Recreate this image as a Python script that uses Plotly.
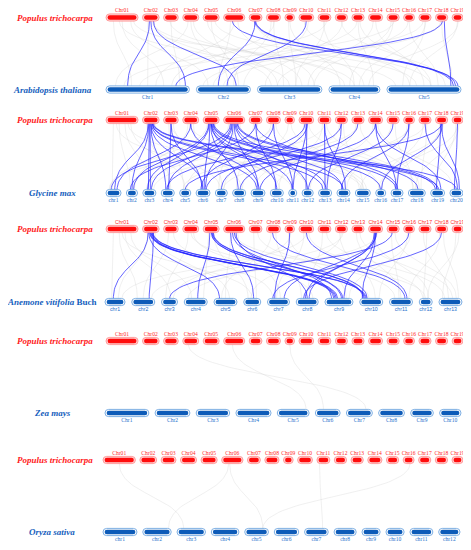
import numpy as np
import plotly.graph_objects as go

# chromosome names / lengths (Mb)
pop_names = ['Chr01', 'Chr02', 'Chr03', 'Chr04', 'Chr05', 'Chr06', 'Chr07', 'Chr08', 'Chr09', 'Chr10',
             'Chr11', 'Chr12', 'Chr13', 'Chr14', 'Chr15', 'Chr16', 'Chr17', 'Chr18', 'Chr19']
pop_len = [50, 26, 23, 25, 25, 33, 20, 22, 15, 23, 20, 19, 19, 22, 19, 17, 19, 19, 17]

ath_names = ['Chr1', 'Chr2', 'Chr3', 'Chr4', 'Chr5']
ath_len = [30.4, 19.7, 23.5, 18.6, 27.0]

gly_names = ['chr%d' % i for i in range(1, 21)]
gly_len = [54, 40, 47, 47, 40, 50, 43, 47, 50, 47, 29, 40, 47, 47, 54, 36, 43, 61, 50, 47]

ane_names = ['chr%d' % i for i in range(1, 14)]
ane_len = [20, 23, 16, 23, 23, 17, 22, 22, 28, 23, 23, 13, 23]

zea_names = ['Chr%d' % i for i in range(1, 11)]
zea_len = [307, 244, 235, 246, 223, 174, 182, 181, 159, 150]

osa_names = ['chr%d' % i for i in range(1, 13)]
osa_len = [43, 36, 36, 35, 30, 31, 30, 28, 23, 23, 29, 27]

species = ['Arabidopsis thaliana', 'Glycine max', 'Anemone vitifolia Buch', 'Zea mays', 'Oryza sativa']

# links: (poplar chr, fraction along it, other chr, fraction along it)
gray1 = [(1,.2,1,.3),(1,.5,1,.7),(1,.8,2,.2),(1,.4,3,.5),(1,.9,5,.1),(2,.3,1,.5),(2,.7,3,.2),(3,.5,1,.9),
         (3,.4,4,.3),(4,.5,2,.6),(4,.3,1,.1),(5,.5,2,.8),(5,.2,3,.7),(5,.8,5,.4),(6,.3,2,.4),(6,.7,3,.9),
         (6,.5,1,.6),(7,.5,4,.7),(7,.3,5,.6),(8,.5,3,.4),(8,.6,1,.8),(9,.5,4,.2),(10,.3,5,.3),(10,.7,2,.9),
         (11,.5,3,.6),(11,.4,4,.5),(12,.5,5,.8),(12,.6,3,.1),(13,.5,4,.9),(13,.4,2,.3),(14,.5,5,.5),
         (14,.3,3,.8),(15,.5,4,.4),(15,.6,1,.4),(16,.5,5,.7),(16,.4,3,.3),(17,.5,5,.2),(17,.6,4,.6),
         (18,.5,5,.9),(18,.4,2,.5),(19,.5,5,.3),(19,.6,4,.8),(2,.6,4,.5),(4,.7,3,.3),(8,.3,2,.7),
         (9,.3,3,.6),(11,.7,1,.2),(13,.7,5,.6),(15,.3,3,.9),(17,.3,2,.1)]
blue1 = [(2,.4,1,.25),(2,.5,1,.97),(2,.7,2,.75),(18,.6,1,.85),(18,.8,5,.88),(6,.4,5,.98),
         (7,.4,5,.92),(7,.5,5,.95),(7,.45,2,.4),(10,.5,2,.57)]

gray2 = [(1,.2,1,.4),(1,.4,2,.3),(1,.6,3,.8),(1,.8,5,.5),(1,.3,7,.4),(1,.7,11,.3),(2,.2,4,.8),(2,.8,15,.4),
         (3,.3,5,.3),(3,.7,8,.7),(4,.3,2,.8),(4,.7,7,.6),(4,.4,15,.6),(5,.2,1,.2),(5,.8,12,.4),(6,.2,2,.6),
         (6,.8,15,.8),(6,.5,7,.2),(7,.3,5,.7),(7,.7,8,.2),(8,.3,3,.2),(8,.7,15,.2),(9,.3,7,.8),(9,.7,16,.3),
         (10,.3,8,.8),(10,.7,18,.3),(11,.3,10,.7),(11,.7,18,.5),(12,.3,9,.2),(12,.7,15,.5),(13,.3,11,.2),
         (13,.7,18,.7),(14,.3,12,.8),(14,.7,20,.2),(15,.3,13,.2),(15,.7,18,.2),(16,.3,14,.8),(16,.7,10,.2),
         (17,.3,16,.7),(17,.7,18,.8),(18,.3,17,.2),(18,.7,15,.3),(19,.3,19,.2),(19,.7,18,.4),(19,.5,16,.2),
         (3,.5,10,.8),(8,.5,1,.1),(13,.5,5,.2),(17,.5,7,.7),(11,.5,3,.9)]
blue2 = [(2,.3,1,.6),(2,.35,2,.5),(2,.4,3,.4),(2,.45,3,.6),(2,.5,4,.3),(2,.5,6,.5),(2,.55,9,.4),
         (2,.6,13,.3),(2,.6,14,.5),(2,.65,19,.6),(2,.7,20,.5),(3,.5,6,.4),(3,.5,4,.6),(4,.5,1,.8),
         (4,.5,9,.6),(5,.3,2,.7),(5,.35,3,.3),(5,.4,6,.6),(5,.45,8,.4),(5,.5,10,.5),(5,.5,11,.4),
         (5,.55,13,.6),(5,.6,16,.5),(5,.65,17,.4),(5,.7,19,.3),(6,.3,1,.3),(6,.35,3,.7),(6,.4,4,.5),
         (6,.45,6,.7),(6,.5,9,.5),(6,.55,12,.5),(6,.6,14,.4),(6,.65,18,.6),(6,.7,19,.5),(7,.5,2,.3),
         (7,.5,10,.4),(7,.5,17,.6),(8,.5,11,.5),(8,.5,6,.3),(10,.4,4,.4),(10,.5,11,.6),(10,.55,12,.3),
         (10,.6,7,.5),(11,.5,13,.5),(11,.5,14,.7),(12,.5,13,.7),(12,.5,6,.8),(13,.5,8,.6),(14,.5,17,.4),
         (14,.5,9,.7),(14,.5,19,.8),(15,.5,12,.6),(16,.5,17,.5),(16,.5,14,.3),(17,.5,20,.6),(18,.4,19,.4),
         (18,.5,20,.8),(18,.6,16,.6),(18,.5,5,.5),(19,.5,20,.3)]

gray3 = [(1,.2,1,.3),(1,.4,2,.2),(1,.6,3,.6),(1,.8,4,.3),(1,.5,6,.5),(2,.3,1,.7),(2,.8,5,.7),(3,.3,2,.5),
         (3,.7,7,.2),(4,.3,3,.2),(4,.7,8,.8),(5,.3,4,.9),(5,.7,6,.2),(6,.3,5,.5),(6,.7,7,.6),(6,.5,12,.5),
         (7,.3,6,.8),(7,.7,11,.2),(8,.3,5,.3),(8,.7,8,.2),(9,.3,9,.8),(9,.7,3,.8),(10,.3,7,.4),(10,.7,12,.2),
         (11,.3,8,.5),(11,.7,13,.2),(12,.3,10,.7),(12,.7,2,.9),(13,.3,11,.5),(13,.7,13,.6),(14,.3,12,.8),
         (14,.7,4,.1),(15,.3,11,.4),(15,.7,13,.8),(16,.3,10,.9),(16,.7,9,.9),(17,.3,13,.4),(17,.7,12,.3),
         (18,.3,11,.9),(18,.7,13,.9),(19,.3,13,.1),(19,.7,12,.7),(4,.5,10,.4),(10,.5,1,.9),(12,.5,6,.4)]
blue3 = [(2,.4,9,.3),(2,.45,9,.35),(2,.5,9,.4),(2,.55,9,.45),(2,.6,10,.2),(2,.65,10,.25),(2,.3,1,.4),
         (2,.35,5,.2),(2,.7,2,.8),(5,.5,9,.6),(5,.55,9,.65),(5,.6,10,.1),(5,.65,10,.15),(5,.4,4,.6),
         (6,.3,6,.6),(6,.4,9,.2),(6,.5,10,.3),(6,.6,8,.5),(9,.5,7,.3),(8,.4,11,.7),(10,.5,11,.8),
         (14,.4,8,.6),(14,.45,9,.7),(14,.5,10,.05),(14,.55,8,.4),(14,.6,7,.8),(18,.5,8,.3),(16,.5,7,.2),
         (15,.4,3,.5)]

gray4 = [(6,.4,5,.95),(4,.3,7,.8),(9,.5,6,.3)]
blue4 = []

gray5 = [(1,.5,3,.2),(6,.3,2,.95),(6,.35,5,.8),(16,.7,5,.8),(11,.1,7,.8)]
blue5 = []

# layout (screen pixels): row extents, gaps, row heights
rows = [
    dict(names=ath_names, lens=ath_len, x=(106, 461), gap=7.0, yt=17.5, yb=89.5, gray=gray1, blue=blue1),
    dict(names=gly_names, lens=gly_len, x=(106, 463), gap=5.3, yt=120, yb=193, gray=gray2, blue=blue2),
    dict(names=ane_names, lens=ane_len, x=(105, 462), gap=6.7, yt=229, yb=302, gray=gray3, blue=blue3),
    dict(names=zea_names, lens=zea_len, x=(105, 461), gap=6.2, yt=341, yb=413, gray=gray4, blue=blue4),
    dict(names=osa_names, lens=osa_len, x=(103, 460), gap=5.8, yt=460, yb=532, gray=gray5, blue=blue5),
]
pop_x = [(106, 463), (106, 463), (106, 463), (106, 463), (103, 463)]
POP_GAP = 4.4
PAD = 1.6
BODY = 8  # default page margin in front of the plot div

RED, RED_LIGHT, RED_EDGE = '#ff0d0d', '#ffd3d3', '#ff8c8c'
BLUE, BLUE_LIGHT, BLUE_EDGE = '#0d5bb8', '#ffffff', '#6fa6e0'
SERIF = 'Times New Roman, Liberation Serif, serif'


def place(lengths, x0, x1, gap):
    scale = (x1 - x0 - gap * (len(lengths) - 1)) / sum(lengths)
    out, cur = [], x0
    for L in lengths:
        out.append((cur, cur + L * scale))
        cur += L * scale + gap
    return out


def rpath(a, b, y, h):
    r = h
    return ('M %f,%f H %f Q %f,%f %f,%f Q %f,%f %f,%f H %f Q %f,%f %f,%f Q %f,%f %f,%f Z'
            % (a + r, y - h, b - r, b, y - h, b, y, b, y + h, b - r, y + h, a + r,
               a, y + h, a, y, a, y - h, a + r, y - h))


def pos(seg, f):
    a, b = seg
    return a + PAD + f * (b - a - 2 * PAD)


def curves(links, top, bot, yt, yb):
    xs, ys = [], []
    t = np.linspace(0, 1, 40)
    y1, y2 = yt + 3, yb - 3
    ym = (y1 + y2) / 2
    for tc, tf, bc, bf in links:
        x1 = pos(top[tc - 1], tf)
        x2 = pos(bot[bc - 1], bf)
        bx = (1 - t) ** 3 * x1 + 3 * (1 - t) ** 2 * t * x1 + 3 * (1 - t) * t ** 2 * x2 + t ** 3 * x2
        by = (1 - t) ** 3 * y1 + 3 * (1 - t) ** 2 * t * ym + 3 * (1 - t) * t ** 2 * ym + t ** 3 * y2
        xs += list(bx) + [None]
        ys += list(by) + [None]
    return xs, ys


fig = go.Figure()
shapes = []
annotations = []

for i, row in enumerate(rows):
    top = place(pop_len, pop_x[i][0], pop_x[i][1], POP_GAP)
    bot = place(row['lens'], row['x'][0], row['x'][1], row['gap'])
    yt, yb = row['yt'], row['yb']

    gx, gy = curves(row['gray'], top, bot, yt, yb)
    fig.add_trace(go.Scatter(x=gx, y=gy, mode='lines', hoverinfo='skip',
                             line=dict(color='rgba(200,200,200,0.45)', width=0.6)))
    if row['blue']:
        bx, by = curves(row['blue'], top, bot, yt, yb)
        fig.add_trace(go.Scatter(x=bx, y=by, mode='lines', hoverinfo='skip',
                                 line=dict(color='rgba(35,35,255,0.7)', width=1.0)))

    for (a, b) in top:
        shapes.append(dict(type='path', path=rpath(a, b, yt, 3.6), fillcolor=RED_LIGHT,
                           line=dict(color=RED_EDGE, width=0.8), layer='above'))
        shapes.append(dict(type='path', path=rpath(a + PAD, b - PAD, yt, 2.2), fillcolor=RED,
                           line=dict(width=0), layer='above'))
    for (a, b) in bot:
        shapes.append(dict(type='path', path=rpath(a, b, yb, 3.6), fillcolor=BLUE_LIGHT,
                           line=dict(color=BLUE_EDGE, width=0.9), layer='above'))
        shapes.append(dict(type='path', path=rpath(a + PAD, b - PAD, yb, 2.3), fillcolor=BLUE,
                           line=dict(width=0), layer='above'))

    lab_font = 'Arial, Liberation Sans, sans-serif' if i == 2 else SERIF
    lab_size = 5.2 if i == 2 else 5.6
    fig.add_trace(go.Scatter(x=[(a + b) / 2 for a, b in top], y=[yt - 6.5] * len(top),
                             mode='text', text=pop_names, hoverinfo='skip', cliponaxis=False,
                             textfont=dict(family=lab_font, size=lab_size, color='#ff2a2a')))
    fig.add_trace(go.Scatter(x=[(a + b) / 2 for a, b in bot], y=[yb + 8] * len(bot),
                             mode='text', text=row['names'], hoverinfo='skip', cliponaxis=False,
                             textfont=dict(family=lab_font, size=lab_size, color='#2a72cc')))

    annotations.append(dict(x=54.5, y=yt, xref='x', yref='y', showarrow=False,
                            text='<b><i>Populus trichocarpa</i></b>',
                            font=dict(family=SERIF, size=9, color='#ff1a1a')))
    name = species[i]
    if name.endswith(' Buch'):
        txt = '<b><i>%s</i> Buch</b>' % name[:-5]
    else:
        txt = '<b><i>%s</i></b>' % name
    annotations.append(dict(x=52, y=yb, xref='x', yref='y', showarrow=False, text=txt,
                            font=dict(family=SERIF, size=9, color='#1560bd')))

fig.update_layout(
    width=471 - BODY, height=550 - BODY,
    margin=dict(l=0, r=0, t=0, b=0),
    paper_bgcolor='white', plot_bgcolor='white',
    showlegend=False,
    shapes=shapes, annotations=annotations,
    xaxis=dict(range=[BODY, 471], visible=False, fixedrange=True),
    yaxis=dict(range=[550, BODY], visible=False, fixedrange=True),
)
fig.write_html("out.html")
